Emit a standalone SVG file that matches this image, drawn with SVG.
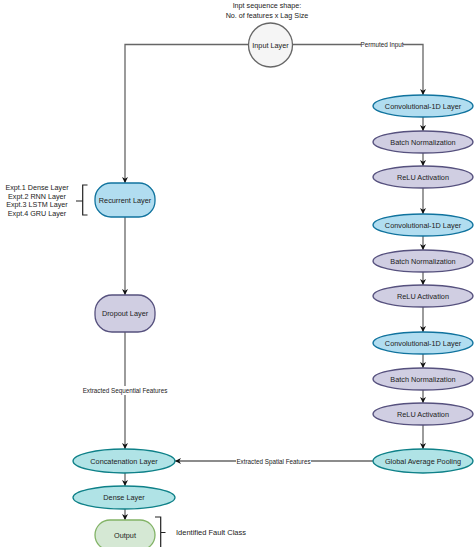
<svg xmlns="http://www.w3.org/2000/svg" width="474" height="547" viewBox="0 0 474 547">
<style>
text{font-family:"Liberation Sans",Arial,sans-serif;fill:#222;}
.lbl{font-size:7.3px;text-anchor:middle;dominant-baseline:central;}
.elbl{font-size:6.3px;text-anchor:middle;dominant-baseline:central;}
.note{font-size:7.2px;}
.edge{fill:none;stroke:#666;stroke-width:1.3;}
.brk{fill:none;stroke:#222;stroke-width:1.2;}
.blue{fill:#b1ddf0;stroke:#10739e;stroke-width:1.3;}
.purple{fill:#d0cee2;stroke:#56517e;stroke-width:1.3;}
.teal{fill:#b0e3e6;stroke:#0e8088;stroke-width:1.3;}
.green{fill:#d5e8d4;stroke:#82b366;stroke-width:1.3;}
.grey{fill:#f5f5f5;stroke:#666;stroke-width:1.3;}
</style>
<defs>
<marker id="arr" viewBox="0 0 10 10" refX="10" refY="5" markerWidth="6" markerHeight="6" markerUnits="userSpaceOnUse" orient="auto">
<path d="M0,0 L10,5 L0,10 L3,5 z" fill="#111"/>
</marker>
</defs>
<rect width="474" height="547" fill="#fff"/>

<g id="connectors">
<path class="edge" d="M248,44.5 H125 V183" marker-end="url(#arr)"/>
<path class="edge" d="M293,44.5 H423 V95" marker-end="url(#arr)"/>
<path class="edge" d="M423,117 V131" marker-end="url(#arr)"/>
<path class="edge" d="M423,153 V166" marker-end="url(#arr)"/>
<path class="edge" d="M423,188 V214" marker-end="url(#arr)"/>
<path class="edge" d="M423,236 V250" marker-end="url(#arr)"/>
<path class="edge" d="M423,272 V285" marker-end="url(#arr)"/>
<path class="edge" d="M423,307 V332" marker-end="url(#arr)"/>
<path class="edge" d="M423,354 V368" marker-end="url(#arr)"/>
<path class="edge" d="M423,390 V403" marker-end="url(#arr)"/>
<path class="edge" d="M423,425 V449" marker-end="url(#arr)"/>
<path class="edge" d="M125,217 V295" marker-end="url(#arr)"/>
<path class="edge" d="M125,332 V449" marker-end="url(#arr)"/>
<path class="edge" d="M373,461 H175" marker-end="url(#arr)"/>
<path class="edge" d="M125,473 V486" marker-end="url(#arr)"/>
<path class="edge" d="M125,509 V520" marker-end="url(#arr)"/>
<rect x="361" y="40" width="42" height="9" fill="#fff"/>
<text class="elbl" x="382" y="44.5">Permuted Input</text>
<rect x="236" y="457" width="75" height="9" fill="#fff"/>
<text class="elbl" x="273.5" y="461">Extracted Spatial Features</text>
<rect x="82" y="386" width="87" height="9" fill="#fff"/>
<text class="elbl" x="125" y="390">Extracted Sequential Features</text>
</g>

<g id="input-note">
<text class="note" x="267" y="7.5" text-anchor="middle">Inpt sequence shape:</text>
<text class="note" x="267" y="18" text-anchor="middle">No. of features x Lag Size</text>
</g>
<g id="input-layer"><circle class="grey" cx="270.5" cy="45" r="22"/><text class="lbl" x="270.5" y="45">Input Layer</text></g>

<g id="conv1"><ellipse class="blue" cx="423" cy="106" rx="50" ry="11"/><text class="lbl" x="423" y="106">Convolutional-1D Layer</text></g>
<g id="bn1"><ellipse class="purple" cx="423" cy="142" rx="50" ry="11"/><text class="lbl" x="423" y="142">Batch Normalization</text></g>
<g id="relu1"><ellipse class="purple" cx="423" cy="177" rx="50" ry="11"/><text class="lbl" x="423" y="177">ReLU Activation</text></g>
<g id="conv2"><ellipse class="blue" cx="423" cy="225" rx="50" ry="11"/><text class="lbl" x="423" y="225">Convolutional-1D Layer</text></g>
<g id="bn2"><ellipse class="purple" cx="423" cy="261" rx="50" ry="11"/><text class="lbl" x="423" y="261">Batch Normalization</text></g>
<g id="relu2"><ellipse class="purple" cx="423" cy="296" rx="50" ry="11"/><text class="lbl" x="423" y="296">ReLU Activation</text></g>
<g id="conv3"><ellipse class="blue" cx="423" cy="343" rx="50" ry="11"/><text class="lbl" x="423" y="343">Convolutional-1D Layer</text></g>
<g id="bn3"><ellipse class="purple" cx="423" cy="379" rx="50" ry="11"/><text class="lbl" x="423" y="379">Batch Normalization</text></g>
<g id="relu3"><ellipse class="purple" cx="423" cy="414" rx="50" ry="11"/><text class="lbl" x="423" y="414">ReLU Activation</text></g>
<g id="gap"><ellipse class="teal" cx="423" cy="461" rx="50" ry="12"/><text class="lbl" x="423" y="461">Global Average Pooling</text></g>

<g id="recurrent"><rect class="blue" x="95" y="183" width="60" height="34" rx="16" ry="16"/><text class="lbl" x="125" y="200">Recurrent Layer</text></g>
<g id="expt-note">
<path class="brk" d="M87.5,185 H82.7 V215 H87.5 M82.7,201 H76"/>
<text class="note" x="37" y="190" text-anchor="middle">Expt.1 Dense Layer</text>
<text class="note" x="37" y="198.7" text-anchor="middle">Expt.2 RNN Layer</text>
<text class="note" x="37" y="207.4" text-anchor="middle">Expt.3 LSTM Layer</text>
<text class="note" x="37" y="216" text-anchor="middle">Expt.4 GRU Layer</text>
</g>
<g id="dropout"><rect class="purple" x="95" y="295" width="60" height="37" rx="17" ry="17"/><text class="lbl" x="125" y="313.5">Dropout Layer</text></g>
<g id="concat"><ellipse class="teal" cx="124" cy="461" rx="51" ry="12"/><text class="lbl" x="124" y="461">Concatenation Layer</text></g>
<g id="dense"><ellipse class="teal" cx="124" cy="497.5" rx="51" ry="11.5"/><text class="lbl" x="124" y="497.5">Dense Layer</text></g>
<g id="output"><rect class="green" x="95" y="520" width="60" height="30" rx="15" ry="15"/><text class="lbl" x="125" y="535">Output</text></g>
<g id="output-note">
<path class="brk" d="M155,517 H160.7 V547 M160.7,532.5 H165.5"/>
<text class="note" x="176" y="535" style="font-size:7.5px">Identified Fault Class</text>
</g>
</svg>
